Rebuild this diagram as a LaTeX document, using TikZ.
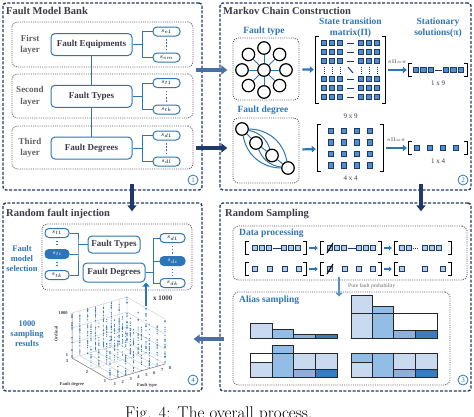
\documentclass[tikz,border=0pt]{standalone}
\usepackage{fontspec}
\usepackage{amsmath}
\usetikzlibrary{positioning,arrows.meta}
\newfontfamily\tnr{Liberation Serif}
\newcommand\fsz[2]{\fontsize{#1}{#2}\selectfont}
\definecolor{navy}{HTML}{1F3A68}
\definecolor{fblue}{HTML}{2E75B6}
\definecolor{steel}{HTML}{4A6FA5}
\definecolor{txtgray}{HTML}{3A3A48}
\definecolor{boxgray}{HTML}{5A5A66}
\definecolor{cellblue}{HTML}{4F8FD0}
\definecolor{hlight}{HTML}{C9D9EF}
\definecolor{hmed}{HTML}{92BDE6}
\definecolor{hgray}{HTML}{8FB0DC}
\definecolor{hdark}{HTML}{3A7DBF}
% brackets round a matrix node
\newcommand\mbr[1]{%
  \draw[bracket line] ([xshift=3pt]#1.north west) -- (#1.north west) -- (#1.south west) -- ([xshift=3pt]#1.south west);
  \draw[bracket line] ([xshift=-3pt]#1.north east) -- (#1.north east) -- (#1.south east) -- ([xshift=-3pt]#1.south east);}

\begin{document}
\begin{tikzpicture}[x=1pt, y=-1pt, node distance=51.75pt,
    panel/.style={draw=navy, line width=1.4pt, dash pattern=on 3pt off 1.6pt, rounded corners=3pt, inner sep=0pt},
    layer box/.style={draw=boxgray, line width=0.9pt, dash pattern=on 1pt off 1.2pt, rounded corners=5pt, inner sep=0pt},
    title/.style={anchor=west, inner sep=0pt, font=\tnr\bfseries\fsz{10.5}{12}, text=txtgray},
    blue label/.style={inner sep=0pt, align=center, font=\tnr\bfseries\fsz{9.5}{11}, text=fblue},
    layer text/.style={inner sep=0pt, align=center, font=\tnr\bfseries\fsz{9}{11.5}, text=black!62},
    fault node/.style={draw=fblue, line width=1pt, rounded corners=4pt, fill=white, minimum width=81pt, minimum height=22pt,
                       inner sep=0pt, font=\tnr\bfseries\fsz{9}{10}, text=txtgray},
    pill/.style={draw=fblue, line width=1pt, rounded corners=4pt, fill=white, minimum width=27pt, minimum height=9pt,
                 inner sep=0pt, font=\fsz{6.5}{7}},
    pill on/.style={pill, fill=fblue, text=white},
    link/.style={draw=fblue, line width=1pt},
    vdots/.style={draw=fblue, line width=1.6pt, dash pattern=on 1.6pt off 1.6pt, shorten <=2.5pt, shorten >=2.5pt},
    state/.style={circle, draw=black, line width=1.2pt, fill=white, minimum size=12.5pt, inner sep=0pt},
    cell/.style={draw=navy, fill=cellblue, line width=0.8pt, minimum size=5.5pt, inner sep=0pt},
    dcell/.style={draw=navy, fill=cellblue!45, line width=0.8pt, minimum size=5.5pt, inner sep=0pt},
    mat/.style={inner sep=0pt},
    bracket line/.style={draw=black, line width=1.2pt},
    dim/.style={inner sep=0pt, font=\tnr\fsz{7}{8}, text=txtgray},
    num/.style={circle, draw=fblue, line width=0.8pt, text=fblue, minimum size=10pt, inner sep=0pt, font=\tnr\fsz{7}{8}},
    big arrow/.style={line width=3.5pt, -{Triangle[length=6pt,width=9pt]}},
    small arrow/.style={draw=fblue, line width=2.2pt, -{Triangle[length=4pt,width=6.5pt]}, shorten <=3pt, shorten >=2pt},
    tiny arrow/.style={draw=fblue, line width=1.5pt, -{Triangle[length=3pt,width=5pt]}, shorten <=3pt, shorten >=3pt},
    bar/.style={draw=black!85, line width=1pt},
    grid line/.style={draw=black!25, line width=0.3pt},
    tick/.style={inner sep=0pt, font=\tnr\bfseries\fsz{4.5}{5}, text=txtgray}]

  \useasboundingbox (0,0) rectangle (474,416);
  \clip (0,0) rectangle (474,416);

  % the four panels
  \node[panel, minimum width=199pt, minimum height=187pt] (P1) at (102.5,96.5) {};
  \node[panel, minimum width=251pt, minimum height=187pt] (P2) at (345.5,96.5) {};
  \node[panel, minimum width=251pt, minimum height=188pt] (P3) at (345.5,297) {};
  \node[panel, minimum width=199pt, minimum height=188pt] (P4) at (102.5,297) {};

  \draw[big arrow, steel, shorten <=-7pt, shorten >=-8pt] ([yshift=26.5pt]P1.east) -- ([yshift=26.5pt]P2.west);
  \draw[big arrow, navy, shorten <=-7pt, shorten >=-8pt] ([yshift=-51.5pt]P1.east) -- ([yshift=-51.5pt]P2.west);
  \draw[big arrow, navy, shorten <=-7pt, shorten >=-9pt] ([xshift=29.5pt]P1.south) -- ([xshift=29.5pt]P4.north);
  \draw[big arrow, navy, shorten <=-7pt, shorten >=-9pt] ([xshift=75.5pt]P2.south) -- ([xshift=75.5pt]P3.north);
  \draw[big arrow, steel, shorten <=-5pt, shorten >=-9pt] ([yshift=-42pt]P3.west) -- ([yshift=-42pt]P4.east);

  % (1) fault model bank
  \node[title] (t1) at (6,11) {Fault Model Bank};
  \node[layer box, minimum width=181pt, minimum height=45pt] (L1) at (102.5,44.5) {};
  \node[layer box, minimum width=181pt, minimum height=44pt] (L2) at (102.5,96) {};
  \node[layer box, minimum width=181pt, minimum height=43pt] (L3) at (102.5,147.5) {};
  \node[layer text] (l1) at (30,45) {First\\layer};
  \node[layer text] (l2) at (30,96.5) {Second\\layer};
  \node[layer text] (l3) at (30,148) {Third\\layer};

  \node[fault node] (fe) at (91.5,44.5) {Fault Equipments};
  \node[fault node] (ft) [below of=fe] {Fault Types};
  \node[fault node] (fd) [below of=ft] {Fault Degrees};
  \draw[link] (fe) -- (ft) -- (fd);

  \node[pill] (e1) at (166.5,31.5) {$s_{e1}$};
  \node[pill] (em) at (166.5,57.5) {$s_{em}$};
  \node[pill] (t1p) at (166.5,83) {$s_{t1}$};
  \node[pill] (tk) at (166.5,109.5) {$s_{tk}$};
  \node[pill] (d1) at (166.5,135.5) {$s_{d1}$};
  \node[pill] (dl) at (166.5,161.5) {$s_{dl}$};
  \draw[link] (fe.east) -- ++(10,0) coordinate (b1);
  \draw[link] (e1.west) -| (b1) |- (em.west);
  \draw[link] (ft.east) -- ++(10,0) coordinate (b2);
  \draw[link] (t1p.west) -| (b2) |- (tk.west);
  \draw[link] (fd.east) -- ++(10,0) coordinate (b3);
  \draw[link] (d1.west) -| (b3) |- (dl.west);
  \draw[vdots] (e1) -- (em);
  \draw[vdots] (t1p) -- (tk);
  \draw[vdots] (d1) -- (dl);
  \node[num] (n1) at (193,180) {1};

  % (2) markov chain construction
  \node[title] (t2) at (223,11) {Markov Chain Construction};
  \node[blue label] (lt) at (264,31) {Fault type};
  \node[blue label] (h1) at (350.5,28) {State transition\\matrix(Π)};
  \node[blue label] (h2) at (438,28) {Stationary\\solutions(π)};
  \node[layer box, minimum width=66pt, minimum height=62pt] (B1) at (266,69) {};
  \node[state] (cc) at (264,70) {};
  \foreach \a in {0,45,...,315} {
    \path (cc) ++(\a:22) node[state] (c\a) {};
    \draw[link] (cc) -- (c\a);
  }

  \node[blue label] (ld) at (263,110) {Fault degree};
  \node[layer box, minimum width=66pt, minimum height=65pt] (B2) at (266,150.5) {};
  \node[state] (g1) at (242,129) {};
  \node[state] (g2) at (256,143) {};
  \node[state] (g3) at (272,155.5) {};
  \node[state] (g4) at (288,168) {};
  \draw[link] (g1) -- (g2) -- (g3) -- (g4);
  \draw[link] (g1) to[bend left=40] (g4);
  \draw[link] (g1) to[bend right=40] (g4);
  \draw[link] (g1) to[bend left=30] (g3);
  \draw[link] (g2) to[bend right=30] (g4);

  \node[mat, minimum width=69pt, minimum height=66pt] (M9) at (350.5,70) {};
  \mbr{M9}
  \foreach \y in {43,52,61,79,88,97} {
    \foreach \x in {324,332,340,361,369,377}
      \node[cell] (m-\x-\y) at (\x,\y) {};
    \draw[navy, line width=0.8pt] (347,\y) -- (354,\y);
  }
  \foreach \x in {324,332,340,361,369,377}
    \draw[navy, line width=1pt, dash pattern=on 1pt off 1pt] (\x,67) -- (\x,74);
  \draw[navy, line width=1pt] (348,67) -- (353,73);
  \node[dim] (s99) at (350.5,116) {9 x 9};

  \node[mat, minimum width=58pt, minimum height=13pt] (V9) at (438,70) {};
  \mbr{V9}
  \foreach \x in {416,423.5,431,446,453.5,461}
    \node[cell] (v-\x) at (\x,70) {};
  \draw[navy, line width=0.8pt] (435,70) -- (442,70);
  \node[dim] (s19) at (438,83) {1 x 9};
  \draw[small arrow] (M9) -- node[above=2pt, font=\fsz{5.5}{6}, text=txtgray] {$\pi\Pi{=}\pi$} (V9);
  \draw[small arrow] (B1) -- (M9);

  \node[mat, minimum width=65pt, minimum height=46pt] (M4) at (350.5,148) {};
  \mbr{M4}
  \foreach \y in {131,142.5,154,165.5}
    \foreach \x in {331,344,357,370}
      \node[cell] (q-\x-\y) at (\x,\y) {};
  \node[dim] (s44) at (350.5,178) {4 x 4};

  \node[mat, minimum width=58pt, minimum height=13pt] (V4) at (438,148) {};
  \mbr{V4}
  \foreach \x in {417,430,443,456}
    \node[cell] (w-\x) at (\x,148) {};
  \node[dim] (s14) at (438,161) {1 x 4};
  \draw[small arrow] (M4) -- node[above=2pt, font=\fsz{5.5}{6}, text=txtgray] {$\pi\Pi{=}\pi$} (V4);
  \draw[small arrow] (B2) -- (M4);
  \node[num] (n2) at (463,180) {2};

  % (3) random sampling
  \node[title] (t3) at (225,214) {Random Sampling};
  \node[layer box, minimum width=234pt, minimum height=54pt] (DP) at (350,253) {};
  \node[blue label, anchor=west] (ldp) at (239,233) {Data processing};
  \node[mat, minimum width=60pt, minimum height=12pt] (R11) at (276,248) {};
  \node[mat, minimum width=60pt, minimum height=12pt] (R12) at (351,248) {};
  \node[mat, minimum width=56pt, minimum height=12pt] (R13) at (423,248) {};
  \node[mat, minimum width=60pt, minimum height=12pt] (R21) at (276,269) {};
  \node[mat, minimum width=60pt, minimum height=12pt] (R22) at (351,269) {};
  \node[mat, minimum width=56pt, minimum height=12pt] (R23) at (423,269) {};
  \foreach \r in {R11,R12,R13,R21,R22,R23} { \mbr{\r} }
  \foreach \x in {255,262,269,284,291,298} \node[dcell] (a-\x) at (\x,248) {};
  \foreach \x in {330,337,344,359,366,373} \node[dcell] (b-\x) at (\x,248) {};
  \foreach \x in {402,409,425,432,439} \node[dcell] (c-\x) at (\x,248) {};
  \draw[navy, line width=0.9pt] (272.5,248) -- (280.5,248);
  \draw[navy, line width=0.9pt] (347.5,248) -- (355.5,248);
  \draw[navy, line width=0.9pt, dash pattern=on 1pt off 1pt] (413,248) -- (418,248);
  \foreach \x in {255,270,285,299} \node[dcell] (d-\x) at (\x,269) {};
  \foreach \x in {330,345,359,373} \node[dcell] (e-\x) at (\x,269) {};
  \foreach \x in {402,425,443} \node[dcell] (f-\x) at (\x,269) {};
  \draw[black, line width=1.1pt] (327,253) -- (333,243);
  \draw[black, line width=1.1pt] (327,274) -- (333,264);
  \draw[tiny arrow] (R11) -- (R12);
  \draw[tiny arrow] (R12) -- (R13);
  \draw[tiny arrow] (R21) -- (R22);
  \draw[tiny arrow] (R22) -- (R23);

  \node[layer box, minimum width=217pt, minimum height=93pt] (AB) at (341.5,338.5) {};
  \node[blue label, anchor=west] (las) at (239,300) {Alias sampling};
  \draw[draw=fblue!80, line width=2.6pt, -{Triangle[length=4pt,width=7pt]}, shorten <=-3pt, shorten >=-5pt]
    ([xshift=-11pt]DP.south) -- ([xshift=-2.5pt]AB.north);
  \node[anchor=west, inner sep=0pt, font=\tnr\fsz{5.5}{6}, text=black!60] (pfp) at (348,286) {Pure fault probability};

  % histograms
  \draw[bar, fill=hlight] (250,323) rectangle (272,338);
  \draw[bar, fill=hmed] (272,329) rectangle (293,338);
  \draw[bar, fill=hgray] (293,334) rectangle (315,338);
  \draw[bar, fill=hdark] (315,334) rectangle (337,338);

  \draw[bar, fill=hlight] (351,295) rectangle (372,313);
  \draw[bar, fill=hlight] (351,313) rectangle (372,338);
  \draw[bar, fill=hmed] (372,306) rectangle (393,313);
  \draw[bar, fill=hmed] (372,313) rectangle (393,338);
  \draw[bar, fill=white] (393,313) rectangle (437,330);
  \draw[bar, fill=hgray] (393,330) rectangle (415,338);
  \draw[bar, fill=hdark] (415,330) rectangle (437,338);

  \draw[bar, fill=white] (250,353) rectangle (272,362);
  \draw[bar, fill=hlight] (250,362) rectangle (272,377);
  \draw[bar, fill=hmed] (272,345) rectangle (293,353);
  \draw[bar, fill=hmed] (272,353) rectangle (293,377);
  \draw[bar, fill=hlight] (293,353) rectangle (315,369);
  \draw[bar, fill=hgray] (293,369) rectangle (315,377);
  \draw[bar, fill=hlight] (315,353) rectangle (337,369);
  \draw[bar, fill=hdark] (315,369) rectangle (337,377);

  \draw[bar, fill=hmed] (351,353) rectangle (372,362);
  \draw[bar, fill=hlight] (351,362) rectangle (372,377);
  \draw[bar, fill=hmed] (372,353) rectangle (393,377);
  \draw[bar, fill=hlight] (393,353) rectangle (415,369);
  \draw[bar, fill=hgray] (393,369) rectangle (415,377);
  \draw[bar, fill=hlight] (415,353) rectangle (437,369);
  \draw[bar, fill=hdark] (415,369) rectangle (437,377);
  \node[num] (n3) at (463,380) {3};

  % (4) random fault injection
  \node[title] (t4) at (6,214) {Random fault injection};
  \node[layer box, minimum width=150pt, minimum height=66pt] (SB) at (117,257) {};
  \node[blue label, font=\tnr\bfseries\fsz{8.5}{10}] (lfs) at (22,259) {Fault\\model\\selection};
  \node[pill, minimum width=24pt] (p1) at (57,233) {$s_{t1}$};
  \node[pill on, minimum width=24pt] (pi) at (57,254) {$s_{ti}$};
  \node[pill, minimum width=24pt] (pk) at (57,275) {$s_{tk}$};
  \node[fault node, minimum width=52pt, minimum height=17pt] (FT2) at (114,244.5) {Fault Types};
  \node[fault node, minimum width=62pt, minimum height=19pt] (FD2) at (114,272.5) {Fault Degrees};
  \node[pill, minimum width=25pt] (q1) at (172.5,238) {$s_{d1}$};
  \node[pill on, minimum width=25pt] (qi) at (172.5,261) {$s_{di}$};
  \node[pill, minimum width=25pt] (qk) at (172.5,283) {$s_{dk}$};
  \coordinate (bl) at (78,244.5);
  \draw[link] (p1.east) -| (bl) |- (pk.east);
  \draw[link] (pi.east) -- (pi.east -| bl);
  \draw[link] (bl) -- (FT2.west);
  \draw[link] (FD2.east) -- ++(8,0) coordinate (br);
  \draw[link] (q1.west) -| (br) |- (qk.west);
  \draw[link] (qi.west) -- (qi.west -| br);
  \draw[vdots] (p1) -- (pi);
  \draw[vdots] (pi) -- (pk);
  \draw[vdots] (q1) -- (qi);
  \draw[vdots] (qi) -- (qk);
  \coordinate (xk) at (146,306);
  \draw[draw=fblue, line width=2.6pt, -{Triangle[length=4pt,width=7pt]}] (xk) -- (xk |- FD2.south);
  \node[anchor=west, inner sep=0pt, font=\tnr\bfseries\fsz{7}{8}, text=txtgray] (x1000) at (153,298) {x 1000};
  \node[blue label, font=\tnr\bfseries\fsz{8.5}{10}] (lsr) at (27,334) {1000\\sampling\\results};

  % 3d scatter of the 1000 samples
  \coordinate (F) at (110,380);
  \coordinate (L) at (72,358);
  \coordinate (R) at (165,364);
  \coordinate (K) at (127,342);
  \coordinate (Lt) at (72,313);
  \coordinate (Kt) at (127,297);
  \coordinate (Rt) at (165,319);
  \draw[grid line] (L) -- (K) -- (R) (Lt) -- (Kt) -- (Rt) (K) -- (Kt) (R) -- (Rt);
  \foreach \h in {15,30} \draw[grid line] (72,358-\h) -- (127,342-\h) -- (165,364-\h);
  \foreach \i in {1,...,6} \draw[grid line] (110+\i*55/7,380-\i*16/7) -- (72+\i*55/7,358-\i*16/7) -- (72+\i*55/7,313-\i*16/7);
  \draw[grid line] (91,369) -- (146,353);
  \pgfmathsetseed{7}
  \foreach \i in {0,...,7}
    \foreach \j in {0,1,2}
      \foreach \k in {1,...,26} {
        \pgfmathsetmacro\px{110+\i*55/7-\j*19}
        \pgfmathsetmacro\py{380-\i*16/7-\j*11-rnd*45}
        \fill[fblue] (\px,\py) circle (0.6);
      }
  \draw[black!55, line width=0.5pt] (L) -- (F) -- (R) (L) -- (Lt);
  \node[tick] (o1000) at (63,313) {1000};
  \node[tick] (o1) at (67,355) {1};
  \node[tick, rotate=90] (ord) at (56,334) {Ordinal};
  \node[tick] (fd3) at (67,361) {3};
  \node[tick] (fd2) at (87,372) {2};
  \node[tick] (fd1) at (105,381) {1};
  \foreach \i in {1,...,8} \node[tick] (ty\i) at (115+\i*55/7-55/7,384-\i*16/7+16/7) {\i};
  \node[tick] (xdeg) at (72,384) {Fault degree};
  \node[tick] (xtype) at (147,385) {Fault type};
  \node[num] (n4) at (193,380) {4};

  % caption, cut by the lower edge as in the original
  \node[anchor=base west, inner sep=0pt, font=\fsz{17}{20}] (cap) at (125,418) {Fig. 4: The overall process.};
\end{tikzpicture}
\end{document}
